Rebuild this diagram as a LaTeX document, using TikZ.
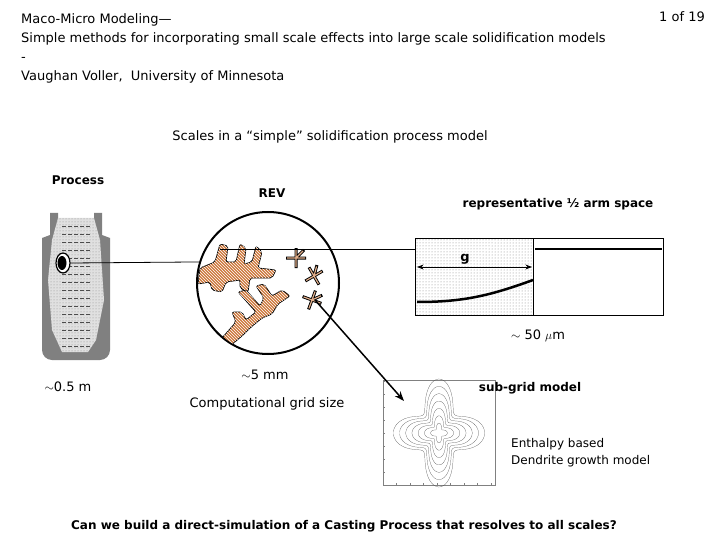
\documentclass[tikz,border=0pt]{standalone}
\usepackage{fontspec}
\setmainfont{DejaVu Sans}
\usetikzlibrary{arrows.meta, patterns, positioning, shapes.geometric}
\definecolor{castgray}{RGB}{128,128,128}
\definecolor{dendorange}{RGB}{205,120,60}
\tikzstyle{txt}=[font=\fontsize{13}{19}\selectfont, inner sep=1pt]
\tikzstyle{bold txt}=[txt, font=\fontsize{13}{19}\selectfont\bfseries]
\tikzstyle{arm}=[draw=black, thick, fill=dendorange, rounded corners=2pt,
  postaction={pattern=north west lines, pattern color=white}]
\tikzstyle{contour}=[black!70, very thin]

\begin{document}
\begin{tikzpicture}[x=1pt, y=-1pt, >={Stealth}]
  \useasboundingbox (0,0) rectangle (720,540);
  % header
  \node[txt, anchor=east] (page) at (706,17) {1 of 19};
  \node[txt, anchor=west, align=left] (title) at (20,48)
    {Maco-Micro Modeling---\\Simple methods for incorporating small scale effects into large scale solidification models\\-\\Vaughan Voller,\ \ University of Minnesota};
  \node[txt] (scales) at (330,137) {Scales in a ``simple'' solidification process model};
  % process
  \node[bold txt, font=\fontsize{12}{19}\selectfont\bfseries] (process) at (78,180) {Process};
  \fill[castgray] (50,213) -- (58,213) -- (58,228) -- (94,228) -- (94,213) -- (102,213)
    -- (102,235) -- (110,238) -- (110,350) to[out=-90,in=0] (100,360) -- (52,360)
    to[out=180,in=-90] (42,350) -- (42,238) -- (50,235) -- cycle;
  \fill[black!12] (58,218) -- (94,218) -- (100,240) -- (104,300) -- (96,340) -- (88,352)
    -- (62,352) -- (52,330) -- (48,280) -- (52,240) -- cycle;
  \fill[pattern=dots, pattern color=black!45] (58,218) -- (94,218) -- (100,240) -- (104,300)
    -- (96,340) -- (88,352) -- (62,352) -- (52,330) -- (48,280) -- (52,240) -- cycle;
  \foreach \y in {226,234,...,346}
    \draw[black!70, dash pattern=on 4pt off 2pt] (62,\y) -- (90,\y);
  \node[draw=black, very thick, fill=white, ellipse, minimum width=14pt, minimum height=20pt,
    inner sep=0pt] (eye) at (63,263) {};
  \fill (62,263) ellipse (4.5pt and 7pt);
  \node[txt] (processsize) at (68,387) {$\sim$0.5 m};
  % REV
  \node[bold txt, font=\fontsize{12}{19}\selectfont\bfseries] (rev) at (272,193) {REV};
  \node[draw, line width=2pt, circle, minimum size=142pt] (circ) at (268,283) {};
  \draw[thick] (eye.east) -- (circ.163.6);
  \begin{scope}
    \clip (268,283) circle (70);
    \draw[arm] (200,268) -- (215,262) -- (220,244) -- (228,246) -- (226,262) -- (236,262)
      -- (240,244) -- (246,248) -- (244,264) -- (252,262) -- (256,246) -- (262,252) -- (258,268)
      -- (276,270) -- (272,278) -- (250,278) -- (248,292) -- (240,288) -- (240,280) -- (226,282)
      -- (222,292) -- (212,290) -- (210,282) -- (198,284) -- cycle;
    \draw[arm] (222,338) -- (236,322) -- (232,312) -- (242,312) -- (246,320) -- (256,312)
      -- (238,292) -- (246,290) -- (260,306) -- (264,298) -- (256,286) -- (264,284) -- (272,296)
      -- (282,290) -- (290,296) -- (278,304) -- (272,314) -- (262,318) -- (250,328) -- (242,336)
      -- (230,346) -- cycle;
  \end{scope}
  \foreach \x/\y/\r in {296/258/0, 314/276/30, 312/300/-20} {
    \begin{scope}[shift={(\x,\y)}, rotate=\r]
      \draw[line width=3pt] (-10,0) -- (10,0) (0,-10) -- (0,10) (0,0) -- (8,-8);
      \draw[dendorange!60, line width=1.2pt] (-9,0) -- (9,0) (0,-9) -- (0,9) (0,0) -- (7,-7);
    \end{scope}
  }
  \coordinate (revtip) at (220,249);
  \node[txt] (revsize) at (265,375) {$\sim$5 mm};
  \node[txt] (gridsize) at (267,404) {Computational grid size};
  % half arm space
  \node[bold txt, font=\fontsize{12}{19}\selectfont\bfseries] (armspace) at (558,204) {representative ½ arm space};
  \node[draw, thick, minimum width=118pt, minimum height=77pt, inner sep=0pt,
    pattern=dots, pattern color=black!50] (solid) at (474,276.5) {};
  \node[draw, thick, minimum width=130pt, minimum height=77pt, inner sep=0pt, fill=white,
    anchor=west] (liquid) at (solid.east) {};
  \draw (revtip) -- (solid.west |- revtip);
  \draw[line width=2pt] (535,249) -- (662,249);
  \draw[<->, thick] (417,267) -- (532,267);
  \node[bold txt] (g) at (465,259) {g};
  \draw[line width=2.5pt] (417,302) to[out=0,in=200] (533,280);
  \node[txt] (armsize) at (538,336) {$\sim$ 50 $\mu$m};
  % sub-grid model
  \node[draw=black!50, minimum width=112pt, minimum height=105pt, inner sep=0pt] (plot) at (439,433) {};
  \foreach \a in {8,14,20,26,32,38,44}
    \draw[contour, domain=0:360, samples=120, smooth]
      plot ({439+\a*(1+0.35*cos(4*\x))*cos(\x)/1.3}, {433+\a*(1+0.35*cos(4*\x))*sin(\x)/1.1});
  \foreach \t in {0,1,...,8}
    \draw[black!50, very thin] (383+13.5*\t,485) -- (383+13.5*\t,483)
      (383,381+13*\t) -- (385,381+13*\t);
  \draw[->, line width=1.5pt] (315,300) -- (404,401);
  \node[bold txt, font=\fontsize{12}{19}\selectfont\bfseries] (subgrid) at (530,388) {sub-grid model};
  \node[txt, anchor=west, align=left, font=\fontsize{12}{17}\selectfont] (enthalpy) at (510,453)
    {Enthalpy based\\Dendrite growth model};
  % question
  \node[bold txt, font=\fontsize{12}{19}\selectfont\bfseries] (question) at (344,526)
    {Can we build a direct-simulation of a Casting Process that resolves to all scales?};
\end{tikzpicture}
\end{document}
